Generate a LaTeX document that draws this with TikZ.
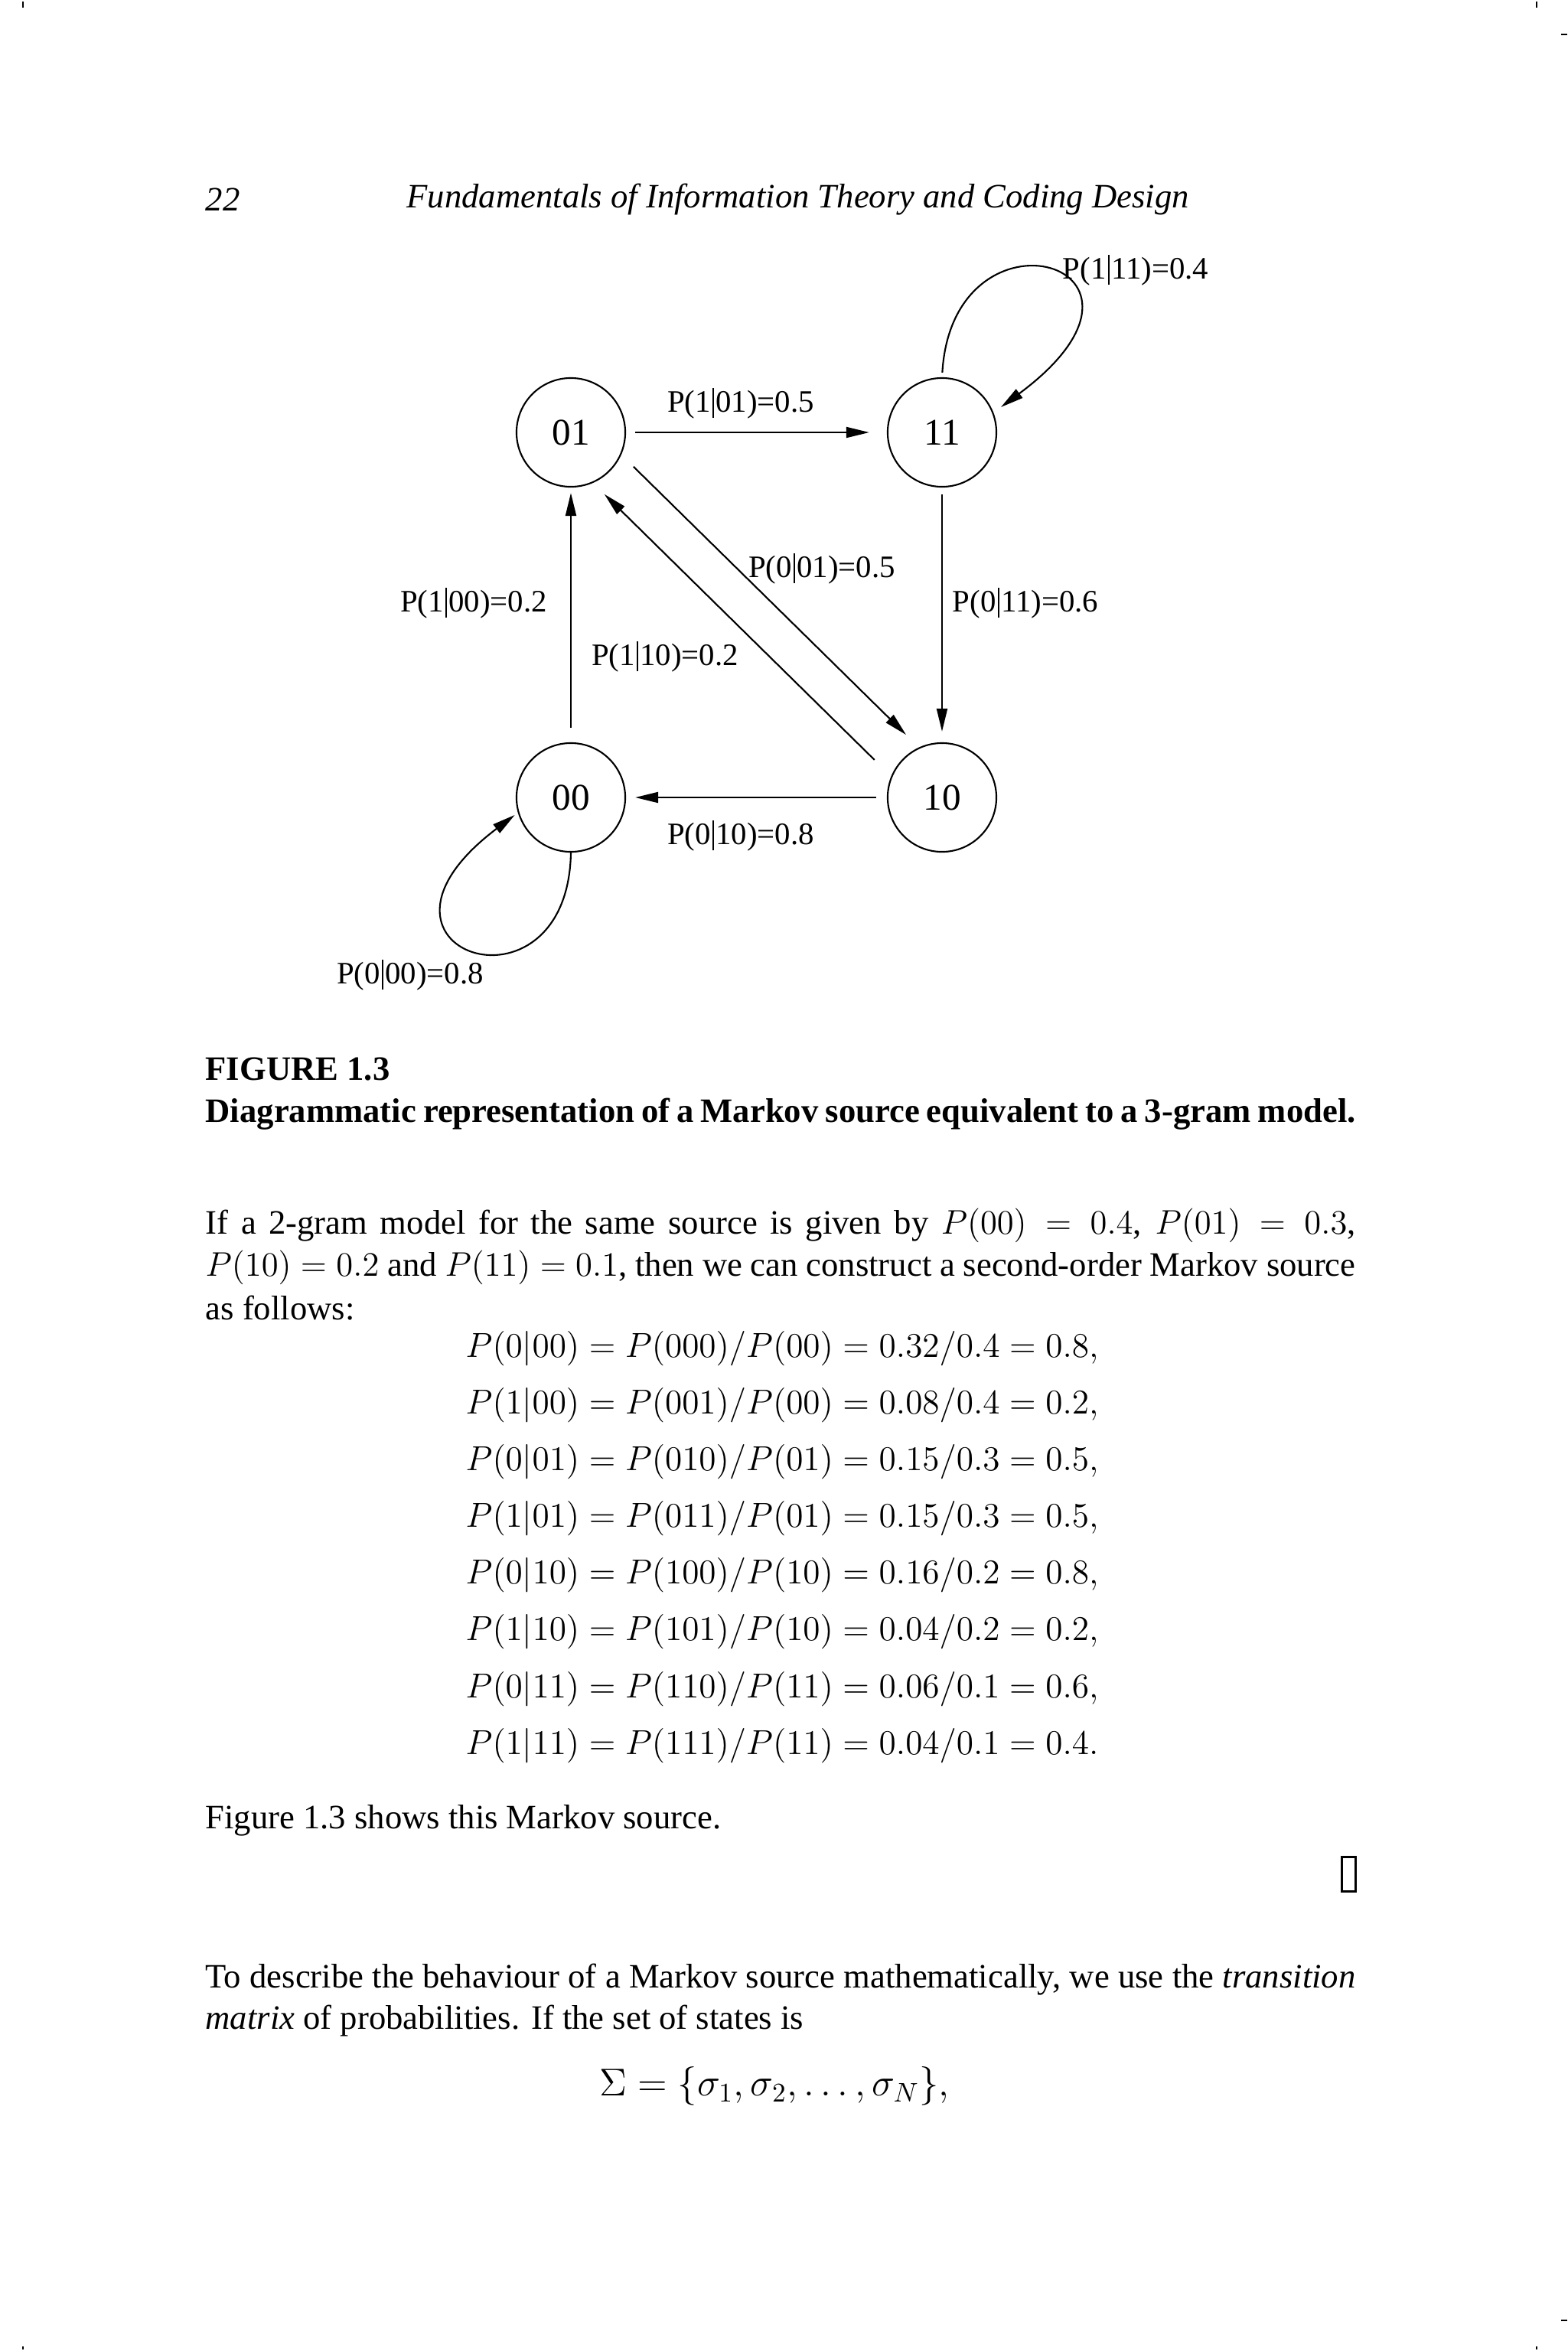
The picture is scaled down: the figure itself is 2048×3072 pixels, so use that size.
\RequirePackage{fix-cm}
\documentclass[tikz,border=0pt]{standalone}
\usepackage{fontspec}
\setmainfont{Liberation Serif}
\usetikzlibrary{arrows.meta}

\newcommand{\bodysize}{\fontsize{12.7}{15.4}\selectfont}
\newcommand{\linew}{15.02cm}
% tall bar of the transition labels
\newcommand{\cbar}{\kern0.06em\rule[-2.3pt]{0.5pt}{11.2pt}\kern0.06em}

\tikzset{
  state/.style={circle, draw, line width=0.6pt, minimum size=1.42cm, inner sep=0pt,
    font=\fontsize{14}{14}\selectfont},
  edge/.style={line width=0.6pt, -{Triangle[length=0.3cm,width=0.14cm]}},
  prob/.style={inner sep=0pt, font=\fontsize{11.6}{11.6}\selectfont},
  txt/.style={anchor=west, inner sep=0pt, font=\bodysize},
  eqn/.style={anchor=west, inner sep=0pt, font=\fontsize{12.9}{12.9}\selectfont},
  crop/.style={line width=0.5pt},
}

\begin{document}
\begin{tikzpicture}[x=0.01cm, y=-0.01cm]

  % --- page ---
  \fill[white] (0,0) rectangle (2048,3072);
  \useasboundingbox (0,0) rectangle (2048,3072);

  % crop marks
  \draw[crop] (30,2) -- (30,10);
  \draw[crop] (2008,2) -- (2008,10);
  \draw[crop] (2040,45) -- (2048,45);
  \draw[crop] (2040,3032) -- (2048,3032);
  \draw[crop] (30,3066) -- (30,3070);
  \draw[crop] (2008,3066) -- (2008,3070);

  % running head
  \node[txt] (pageno) at (268,261) {\itshape 22};
  \node[txt] (runhead) at (531,261)
    {\itshape Fundamentals of Information Theory and Coding Design};

  % --- the states ---
  \node[state] (s01) at (746,565) {01};
  \node[state] (s11) at (1231,565) {11};
  \node[state] (s00) at (746,1042) {00};
  \node[state] (s10) at (1231,1042) {10};

  % --- transitions ---
  \draw[edge, shorten <=0.12cm, shorten >=0.23cm] (s01) -- (s11);
  \draw[edge, shorten <=0.09cm, shorten >=0.14cm] (s11) -- (s10);
  \draw[edge, shorten <=0.14cm, shorten >=0.12cm] (s10) -- (s00);
  \draw[edge, shorten <=0.19cm, shorten >=0.07cm] (s00) -- (s01);
  % the two diagonals run side by side
  \draw[edge, shorten <=0.175cm, shorten >=0.19cm,
    transform canvas={shift={(18,-18)}}] (s01) -- (s10);
  \draw[edge, shorten <=0.25cm, shorten >=0.16cm,
    transform canvas={shift={(-19,19)}}] (s10) -- (s01);

  % self loops
  \draw[edge, shorten <=0.06cm, shorten >=0.12cm]
    (s11.north) .. controls (1245,255) and (1560,345) .. (s11.21);
  \draw[edge, shorten >=0.05cm]
    (s00.south) .. controls (742,1343) and (438,1242) .. (s00.196);

  % --- labels ---
  \node[prob] (p111) at (1484,353) {P(1\cbar 11)=0.4};
  \node[prob] (p101) at (968,527) {P(1\cbar 01)=0.5};
  \node[prob] (p001) at (1074,743) {P(0\cbar 01)=0.5};
  \node[prob] (p100) at (619,788) {P(1\cbar 00)=0.2};
  \node[prob] (p011) at (1340,788) {P(0\cbar 11)=0.6};
  \node[prob] (p110) at (869,858) {P(1\cbar 10)=0.2};
  \node[prob] (p010) at (968,1092) {P(0\cbar 10)=0.8};
  \node[prob] (p000) at (536,1274) {P(0\cbar 00)=0.8};

  % --- caption ---
  \node[txt] (capnum) at (268,1397) {\bfseries FIGURE 1.3};
  \node[txt] (captext) at (268,1456) {\bfseries\hbox to \linew{Diagrammatic
    representation of a Markov source equivalent to a 3-gram model.}};

  % --- text ---
  \node[txt] (line1) at (268,1601) {\hbox to \linew{If a 2-gram model for the
    same source is given by $P(00) = 0.4$, $P(01) = 0.3$,}};
  \node[txt] (line2) at (268,1656) {\hbox to \linew{$P(10) = 0.2$ and
    $P(11) = 0.1$, then we can construct a second-order Markov source}};
  \node[txt] (line3) at (268,1709) {as follows:};

  \node[eqn] (eq1) at (608,1762) {$P(0|00) = P(000)/P(00) = 0.32/0.4 = 0.8,$};
  \node[eqn] (eq2) at (608,1836) {$P(1|00) = P(001)/P(00) = 0.08/0.4 = 0.2,$};
  \node[eqn] (eq3) at (608,1910) {$P(0|01) = P(010)/P(01) = 0.15/0.3 = 0.5,$};
  \node[eqn] (eq4) at (608,1984) {$P(1|01) = P(011)/P(01) = 0.15/0.3 = 0.5,$};
  \node[eqn] (eq5) at (608,2058) {$P(0|10) = P(100)/P(10) = 0.16/0.2 = 0.8,$};
  \node[eqn] (eq6) at (608,2132) {$P(1|10) = P(101)/P(10) = 0.04/0.2 = 0.2,$};
  \node[eqn] (eq7) at (608,2207) {$P(0|11) = P(110)/P(11) = 0.06/0.1 = 0.6,$};
  \node[eqn] (eq8) at (608,2281) {$P(1|11) = P(111)/P(11) = 0.04/0.1 = 0.4.$};

  \node[txt] (line4) at (268,2379) {Figure 1.3 shows this Markov source.};

  % end of example
  \draw[line width=0.85pt] (1753,2426) rectangle (1771,2471);

  \node[txt] (line5) at (268,2587) {\hbox to \linew{To describe the behaviour
    of a Markov source mathematically, we use the \emph{transition}}};
  \node[txt] (line6) at (268,2640) {\emph{matrix} of probabilities. If the set
    of states is};
  \node[eqn, anchor=center, font=\fontsize{14.4}{14.4}\selectfont] (sigma) at (1012,2726)
    {$\Sigma = \{\sigma_1, \sigma_2, \ldots, \sigma_N\},$};

\end{tikzpicture}
\end{document}
